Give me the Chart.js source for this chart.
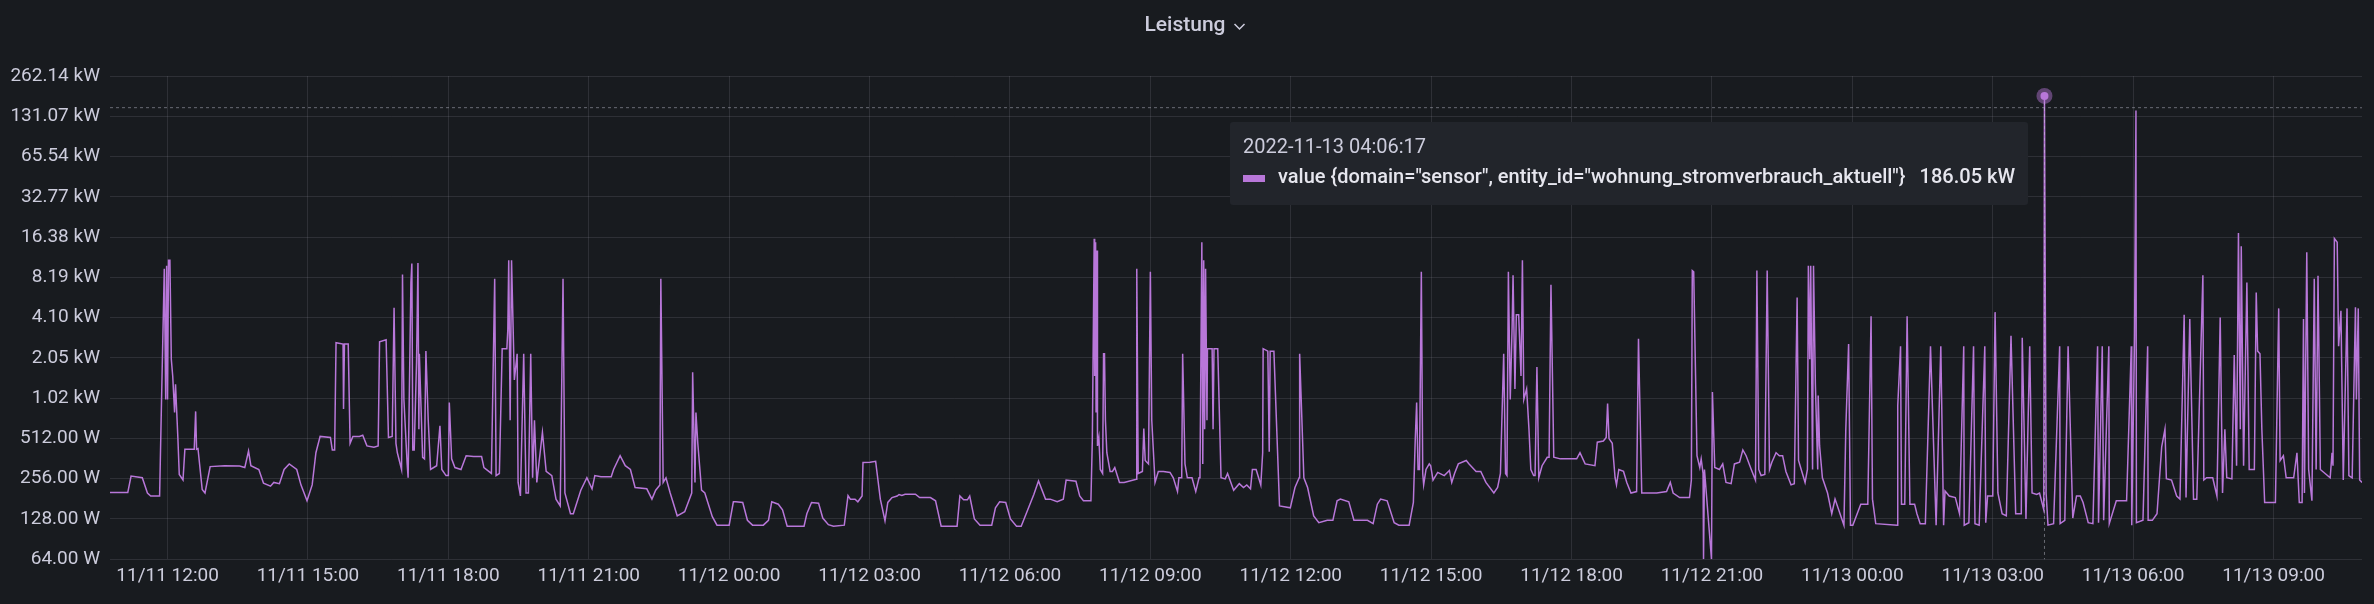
<!DOCTYPE html>
<html><head><meta charset="utf-8">
<script src="https://cdn.jsdelivr.net/npm/chart.js@4"></script>
<style>html,body{margin:0;padding:0;background:#181b1f;}#wrap{width:2374px;height:604px;position:relative;}</style>
</head><body><div id="wrap"><canvas id="c"></canvas></div>
<script>
const chartTitle = "Leistung";
const seriesName = 'value {domain="sensor", entity_id="wohnung_stromverbrauch_aktuell"}';
const tooltipTime = "2022-11-13 04:06:17";
const tooltipValue = "186.05 kW";
const cursorValue = 152000;
// hours since 2022-11-11 00:00
const xTicks = [12,15,18,21,24,27,30,33,36,39,42,45,48,51,54,57];
const xLabels = ["11/11 12:00","11/11 15:00","11/11 18:00","11/11 21:00","11/12 00:00","11/12 03:00","11/12 06:00","11/12 09:00","11/12 12:00","11/12 15:00","11/12 18:00","11/12 21:00","11/13 00:00","11/13 03:00","11/13 06:00","11/13 09:00"];
const yTicks = [64,128,256,512,1024,2048,4096,8192,16384,32768,65536,131072,262144];
const yLabels = ["64.00 W","128.00 W","256.00 W","512.00 W","1.02 kW","2.05 kW","4.10 kW","8.19 kW","16.38 kW","32.77 kW","65.54 kW","131.07 kW","262.14 kW"];
// [hour, watts]
const samples = [
[10.77,202],[10.91,202],[11.15,202],[11.22,268],[11.46,260],[11.57,200],[11.64,190],[11.83,190],[11.87,940],[11.93,9500],[11.96,1000],[11.98,10000],[12.00,1000],[12.02,11000],[12.05,11000],[12.08,2000],[12.11,1500],[12.15,800],[12.17,1300],[12.22,520],[12.25,275],[12.33,250],[12.37,425],[12.57,425],[12.60,815],[12.62,425],[12.65,430],[12.74,213],[12.80,200],[12.91,315],[13.22,320],[13.54,318],[13.65,310],[13.73,412],[13.78,320],[13.95,300],[14.05,237],[14.20,225],[14.27,240],[14.39,235],[14.49,300],[14.60,330],[14.76,300],[14.85,230],[14.98,175],[15.09,230],[15.17,400],[15.26,530],[15.48,520],[15.52,420],[15.57,420],[15.60,2660],[15.75,2600],[15.76,850],[15.78,2600],[15.86,2600],[15.90,470],[15.96,530],[16.10,530],[16.17,540],[16.26,450],[16.41,440],[16.50,450],[16.53,2700],[16.67,2800],[16.72,520],[16.80,530],[16.84,4850],[16.88,470],[16.91,400],[17.00,300],[17.02,8600],[17.05,1000],[17.12,330],[17.14,260],[17.20,7500],[17.22,10400],[17.24,420],[17.27,420],[17.32,1900],[17.35,10500],[17.37,600],[17.38,2200],[17.45,370],[17.49,360],[17.52,2300],[17.57,700],[17.62,300],[17.75,320],[17.82,635],[17.86,300],[17.95,270],[18.00,270],[18.02,950],[18.07,360],[18.14,310],[18.27,300],[18.38,380],[18.54,375],[18.71,375],[18.76,310],[18.92,280],[18.99,8000],[19.02,270],[19.09,280],[19.15,2400],[19.25,2400],[19.27,3300],[19.29,11000],[19.32,700],[19.35,11000],[19.41,1400],[19.47,2200],[19.49,240],[19.54,190],[19.61,2200],[19.66,200],[19.71,200],[19.76,2200],[19.80,260],[19.84,700],[19.89,240],[20.01,570],[20.09,290],[20.21,270],[20.30,180],[20.39,160],[20.45,8000],[20.49,200],[20.61,140],[20.67,140],[20.83,210],[20.96,260],[21.07,215],[21.13,270],[21.26,265],[21.48,265],[21.53,300],[21.67,380],[21.78,320],[21.89,300],[21.99,220],[22.24,215],[22.35,180],[22.43,210],[22.52,230],[22.54,8000],[22.59,240],[22.65,260],[22.74,200],[22.89,135],[23.05,145],[23.20,200],[23.22,1600],[23.27,240],[23.29,800],[23.33,470],
[23.41,210],[23.48,200],[23.64,133],[23.74,115],[24.0,115],[24.09,172],[24.14,172],[24.29,170],[24.39,125],[24.5,115],[24.73,115],[24.84,125],[24.91,172],[25.05,165],[25.14,150],[25.24,113],[25.6,113],[25.66,140],[25.76,170],[25.91,168],[26.0,130],[26.12,116],[26.23,113],[26.46,115],[26.54,191],[26.59,180],[26.69,180],[26.75,172],[26.84,190],[26.86,338],[27.01,340],[27.13,345],[27.23,180],[27.33,124],[27.39,170],[27.48,185],[27.59,190],[27.63,195],[27.69,192],[27.76,196],[27.98,196],[28.07,185],[28.3,185],[28.41,175],[28.53,113],[28.87,113],[28.93,190],[29.01,178],[29.09,178],[29.14,190],[29.24,128],[29.36,115],[29.61,115],[29.69,155],[29.78,172],[29.91,170],[30.01,128],[30.14,113],[30.24,113],[30.51,195],[30.61,246],[30.76,180],[30.86,180],[31.01,172],[31.14,180],[31.2,250],[31.41,245],[31.49,190],[31.57,175],[31.73,175],[31.76,500],[31.8,15900],[31.81,1500],[31.83,15000],[31.84,800],[31.86,13000],[31.87,450],[31.9,520],[31.93,300],[31.98,280],[32.0,2200],[32.02,2200],[32.04,700],[32.07,400],[32.14,290],[32.19,290],[32.24,310],[32.34,240],
[32.44,240],[32.70,253],[32.71,9500],[32.74,280],[32.83,290],[32.86,608],[32.89,350],[32.96,330],[33.0,9000],[33.03,700],[33.1,240],[33.17,290],[33.28,290],[33.42,285],[33.49,260],[33.58,205],[33.61,260],[33.67,260],[33.69,2200],[33.74,330],[33.79,260],[33.89,260],[33.97,205],[34.04,260],[34.06,270],[34.1,15000],[34.12,330],[34.14,11000],[34.16,600],[34.18,9500],[34.21,700],[34.22,2400],[34.32,2400],[34.34,600],[34.36,2400],[34.44,2400],[34.51,260],[34.6,255],[34.65,280],[34.78,210],[34.9,235],[34.99,220],[35.06,230],[35.14,215],[35.18,300],[35.26,300],[35.36,230],[35.40,400],[35.41,2400],[35.51,2300],[35.54,407],[35.56,2300],[35.64,2300],[35.76,160],[35.99,155],[36.09,220],[36.18,260],[36.19,2200],[36.28,260],[36.36,220],[36.49,135],[36.6,120],[36.78,125],[36.9,125],[36.99,175],[37.06,180],[37.24,172],[37.35,125],[37.64,125],[37.76,118],[37.85,165],[37.92,180],[38.06,175],[38.21,120],[38.31,115],[38.53,115],[38.62,170],[38.66,500],[38.69,950],[38.72,300],[38.75,300],[38.79,9000],[38.82,280],[38.84,230],[38.89,300],[38.96,330],[38.99,320],[39.04,250],[39.14,285],[39.28,270],[39.39,295],[39.44,240],[39.5,280],[39.58,330],[39.75,350],[39.81,330],[39.96,290],[40.06,290],[40.17,240],[40.34,200],[40.42,220],[40.48,280],[40.55,2200],[40.59,280],[40.62,270],[40.65,9000],[40.69,1000],[40.73,3500],[40.75,8500],[40.79,1200],[40.82,4300],[40.87,4300],[40.92,1500],[40.95,11000],[40.98,1000],[41.04,1200],[41.09,600],[41.13,300],[41.19,270],[41.22,270],[41.26,1750],[41.3,260],[41.37,320],[41.48,370],[41.52,370],[41.56,7200],[41.62,370],[41.76,360],[41.9,360],[42.01,360],[42.11,360],[42.18,400],[42.29,330],[42.5,320],[42.55,480],[42.68,490],[42.74,520],[42.77,935],[42.8,510],[42.87,470],[42.93,260],[42.96,230],[43.01,300],[43.11,290],[43.18,240],[43.27,200],[43.39,205],[43.43,2850],[43.5,200],[43.82,200],[44.03,205],[44.11,240],[44.17,200],[44.31,185],[44.52,185],[44.56,250],[44.58,9200],[44.61,9000],[44.65,1500],[44.68,380],[44.74,310],[44.77,360],[44.81,280],[44.82,64],[44.84,300],[44.99,64],[45.01,1140],[45.06,310],[45.16,300],[45.23,330],[45.3,240],[45.41,235],[45.48,330],[45.59,340],[45.66,420],[45.73,380],[45.84,300],[45.93,250],[45.96,9200],[46.0,300],[46.05,270],[46.13,275],[46.18,9200],[46.23,300],[46.28,340],[46.37,400],[46.44,380],[46.51,380],[46.58,290],[46.69,230],[46.76,235],[46.82,5800],[46.85,350],[46.92,290],[46.99,240],[47.04,300],[47.06,10000],[47.09,2000],[47.11,10000],[47.15,300],[47.17,10000],[47.21,1300],[47.26,300],[47.27,1070],[47.3,450],[47.36,260],[47.47,200],[47.56,140],[47.63,180],[47.82,115],[47.86,600],[47.92,2600],[47.96,115],[48.01,115],[48.18,165],[48.28,165],[48.33,165],[48.4,4200],[48.43,180],[48.5,118],[48.96,115],[48.97,900],[49.03,2500],[49.05,165],[49.12,165],[49.17,4200],[49.23,165],[49.33,165],[49.38,140],[49.45,118],[49.56,118],[49.67,2500],[49.79,115],
[49.89,2500],[49.95,115],[49.98,207],[50.07,190],[50.2,185],[50.29,140],[50.38,2500],[50.39,115],[50.49,120],[50.59,2500],[50.62,118],[50.71,115],[50.83,2500],[50.85,120],[50.89,190],[51.0,190],[51.05,4500],[51.11,200],[51.2,140],[51.29,135],[51.39,3000],[51.49,140],[51.61,140],[51.63,2900],[51.71,128],[51.79,2500],[51.84,200],[51.94,195],[52.0,200],[52.09,150],[52.105,186050],[52.14,200],[52.18,115],[52.3,118],[52.43,2500],[52.44,118],[52.54,125],[52.61,2500],[52.71,130],[52.79,190],[52.87,190],[52.93,170],[53.04,120],[53.14,118],[53.24,2500],[53.26,120],[53.34,2500],[53.37,125],[53.48,2500],[53.49,118],[53.64,175],[53.86,175],[53.96,2500],[53.97,115],[54.03,3000],[54.06,145000],[54.07,120],[54.21,125],[54.31,2500],[54.32,125],[54.41,125],[54.51,140],[54.61,443],[54.68,600],[54.71,256],[54.82,250],[54.93,190],[55.0,180],[55.09,4300],[55.13,185],[55.21,4000],[55.29,180],[55.36,180],[55.49,8500],[55.51,250],[55.57,260],[55.7,260],[55.79,190],[55.86,4100],[55.91,200],[55.96,600],[56.0,260],[56.11,255],[56.16,2150],[56.21,320],[56.25,17600],[56.29,600],[56.31,14000],[56.36,320],[56.43,7500],[56.48,300],[56.59,300],[56.63,6300],[56.66,2300],[56.71,2200],[56.75,600],[56.81,170],[57.04,170],[57.11,4800],[57.14,350],[57.21,380],[57.27,260],[57.43,260],[57.5,400],[57.55,170],[57.61,170],[57.64,4000],[57.66,200],[57.71,12600],[57.75,300],[57.82,175],[57.87,8000],[57.91,300],[57.95,8400],[58.0,300],[58.21,260],[58.25,400],[58.27,320],[58.3,16000],[58.36,15000],[58.39,2500],[58.44,4600],[58.49,250],[58.57,4800],[58.61,270],[58.68,260],[58.75,4900],[58.77,1000],[58.81,4800],[58.84,250],[58.89,240]
];
const xMin = 10.77, xMax = 58.89;
const purple = '#b877d9';
const textCol = '#ccccdc';
const FONT = 'Roboto, "Noto Sans", sans-serif';

const overlay = {
  id:'overlay',
  afterDraw(chart){
    const ctx = chart.ctx, xs = chart.scales.x, ys = chart.scales.y, a = chart.chartArea;
    ctx.save();
    ctx.fillStyle = textCol; ctx.font = '500 21px '+FONT; ctx.textAlign='center'; ctx.textBaseline='middle';
    const tw = ctx.measureText(chartTitle).width;
    ctx.fillText(chartTitle, 1193-8, 26);
    ctx.strokeStyle = textCol; ctx.lineWidth=1.5; ctx.beginPath();
    const cx = 1193-8+tw/2+14; ctx.moveTo(cx-5,24); ctx.lineTo(cx,29); ctx.lineTo(cx+5,24); ctx.stroke();
    let pk = samples[0]; samples.forEach(s=>{ if(s[1]>pk[1]) pk=s; });
    const px = xs.getPixelForValue(pk[0]), py = ys.getPixelForValue(pk[1]);
    const cy = ys.getPixelForValue(cursorValue);
    ctx.setLineDash([3,3]); ctx.strokeStyle='rgba(204,204,220,0.45)'; ctx.lineWidth=1;
    ctx.beginPath(); ctx.moveTo(a.left,cy); ctx.lineTo(a.right,cy); ctx.stroke();
    ctx.beginPath(); ctx.moveTo(px,py); ctx.lineTo(px,a.bottom); ctx.stroke();
    ctx.setLineDash([]);
    ctx.fillStyle='rgba(184,119,217,0.45)'; ctx.beginPath(); ctx.arc(px,py,8,0,Math.PI*2); ctx.fill();
    ctx.fillStyle=purple; ctx.beginPath(); ctx.arc(px,py,4,0,Math.PI*2); ctx.fill();
    ctx.fillStyle='#22252b'; ctx.beginPath(); ctx.roundRect(1230,122,798,83,3); ctx.fill();
    ctx.fillStyle=textCol; ctx.font='20px '+FONT; ctx.textAlign='left'; ctx.textBaseline='middle';
    ctx.fillText(tooltipTime,1243,148);
    ctx.fillStyle=purple; ctx.fillRect(1243,175,22,7);
    ctx.fillStyle='#e6e6ee'; ctx.font='500 20px '+FONT;
    ctx.fillText(seriesName,1278,178);
    ctx.textAlign='right'; ctx.fillText(tooltipValue,2015,178);
    ctx.restore();
  }
};

new Chart(document.getElementById('c'),{
  type:'line',
  data:{datasets:[{data:samples.map(s=>({x:s[0],y:s[1]})),borderColor:purple,borderWidth:1.5,pointRadius:0,tension:0,fill:false}]},
  options:{
    responsive:true, maintainAspectRatio:false, animation:false,
    layout:{padding:{top:76,right:12,bottom:10,left:0}},
    plugins:{legend:{display:false},tooltip:{enabled:false}},
    events:[],
    scales:{
      x:{type:'linear',min:xMin,max:xMax,
        afterBuildTicks(s){s.ticks = xTicks.map(v=>({value:v}));},
        ticks:{color:textCol,font:{family:FONT,size:19},maxRotation:0,autoSkip:false,padding:6,
          callback:(v)=>{const i=xTicks.indexOf(v);return i>=0?xLabels[i]:'';}},
        grid:{color:'rgba(204,204,220,0.12)',drawTicks:false},border:{display:false}},
      y:{type:'logarithmic',min:64,max:262144,
        afterBuildTicks(s){s.ticks = yTicks.map(v=>({value:v}));},
        afterFit(s){s.width=110;},
        ticks:{color:textCol,font:{family:FONT,size:19},padding:10,autoSkip:false,
          callback:(v)=>{const i=yTicks.indexOf(v);return i>=0?yLabels[i]:'';}},
        grid:{color:'rgba(204,204,220,0.12)',drawTicks:false},border:{display:false}}
    }
  },
  plugins:[overlay]
});
</script></body></html>
